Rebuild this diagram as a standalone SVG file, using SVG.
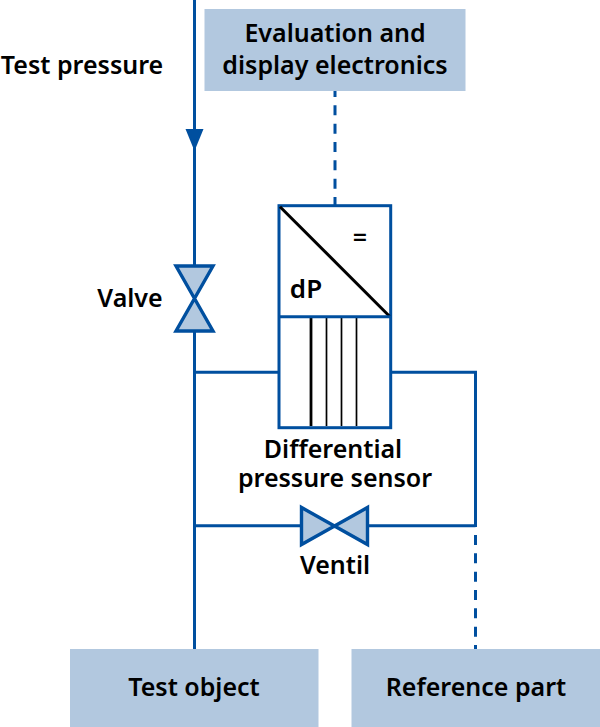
<svg xmlns="http://www.w3.org/2000/svg" width="600" height="727" viewBox="0 0 600 727">
<style>
text{font-family:"Noto Sans","Liberation Sans",sans-serif;font-size:25px;font-weight:600;fill:#000;text-anchor:middle}
.box{fill:#b2c8df}
.ln{fill:none;stroke:#004f9f;stroke-width:3}
.dash{stroke-dasharray:10 8.330}
.valve{fill:#b2c8df;stroke:#004f9f;stroke-width:3.400;stroke-linejoin:miter}
.bar{stroke:#000;fill:none}
</style>
<rect width="600" height="727" fill="#fff"/>
<g id="connectors">
<path class="ln" d="M194.500 0V266M194.500 331V649M194.500 372.300H279M391 372.300H475.500V527M194.500 525.700H301M368 525.700H475.500"/>
<path class="ln dash" stroke-dashoffset="4" d="M335 91V205"/>
<path class="ln dash" stroke-dashoffset="11.330" d="M475.500 528V649"/>
<polygon points="185.500,129 203.500,129 194.500,151" fill="#004f9f"/>
</g>
<g id="evaluation"><rect class="box" x="204.500" y="9" width="261" height="82"/>
<text x="335" y="42">Evaluation and</text><text x="335" y="74">display electronics</text></g>
<g id="test-object"><rect class="box" x="70" y="649" width="248.500" height="78"/><text x="194" y="696">Test object</text></g>
<g id="reference-part"><rect class="box" x="351.500" y="649" width="248.500" height="78"/><text x="476" y="696">Reference part</text></g>
<g id="test-pressure-label"><text x="82" y="74">Test pressure</text></g>
<g id="valve"><polygon class="valve" points="176,266 213,266 176,331 213,331"/><text x="130" y="307">Valve</text></g>
<g id="sensor">
<rect x="279" y="205.700" width="111.700" height="222" fill="#fff" stroke="#004f9f" stroke-width="3"/>
<path d="M280 206.700L390 316.700" class="bar" stroke-width="3"/>
<path class="bar" stroke-width="2.800" d="M311 317V426"/>
<path class="bar" stroke-width="1.700" d="M326.500 317V426M341.500 317V426M356.500 317V426"/>
<path class="ln" d="M279 316.700H391"/>
<text x="306" y="298" style="font-size:26px">dP</text><text x="360" y="246">=</text>
<text x="333" y="458">Differential</text><text x="335" y="487">pressure sensor</text>
</g>
<g id="ventil"><polygon class="valve" points="301.500,507.500 301.500,544.500 367.500,507.500 367.500,544.500"/><text x="335" y="574">Ventil</text></g>
</svg>
